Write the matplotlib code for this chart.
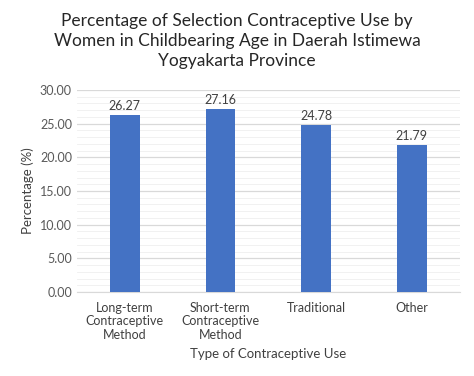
import matplotlib.pyplot as plt
import numpy as np

plt.rcParams['font.family'] = ['Lato', 'DejaVu Sans']

categories = ['Long-term\nContraceptive\nMethod', 'Short-term\nContraceptive\nMethod', 'Traditional', 'Other']
values = [26.27, 27.16, 24.78, 21.79]

fig = plt.figure(figsize=(4.74, 3.76), dpi=100)
ax = fig.add_axes([0.162, 0.223, 0.808, 0.538])

x = np.arange(len(categories))
bars = ax.bar(x, values, width=0.31, color='#4472C4', zorder=3)
for b, v in zip(bars, values):
    ax.text(b.get_x() + b.get_width() / 2, v + 0.5, f'{v:.2f}', ha='center', va='bottom',
            fontsize=9, color='#404040')

ax.set_ylim(0, 30)
ax.set_xlim(-0.5, 3.5)
ax.set_yticks(np.arange(0, 31, 5))
ax.set_yticklabels([f'{t:.2f}' for t in np.arange(0, 31, 5)])
ax.set_yticks(np.arange(0, 31, 1), minor=True)
ax.grid(axis='y', which='major', color='#d9d9d9', linewidth=0.9, zorder=0)
ax.grid(axis='y', which='minor', color='#efefef', linewidth=0.6, zorder=0)
ax.set_xticks(x)
ax.set_xticklabels(categories, fontsize=9, color='#404040', linespacing=1.15)
ax.tick_params(axis='y', labelsize=9, labelcolor='#595959', length=0, which='both')
ax.tick_params(axis='x', length=0, pad=7)
for s in ['top', 'right', 'left']:
    ax.spines[s].set_visible(False)
ax.spines['bottom'].set_color('#d9d9d9')

ax.set_ylabel('Percentage (%)', fontsize=9.5, color='#404040')
ax.set_xlabel('Type of Contraceptive Use', fontsize=9.5, color='#404040', labelpad=5)
fig.suptitle('Percentage of Selection Contraceptive Use by\nWomen in Childbearing Age in Daerah Istimewa\nYogyakarta Province',
             y=0.965, fontsize=12.5, color='#262626', linespacing=1.3)

fig.savefig('out.png', dpi=100)
